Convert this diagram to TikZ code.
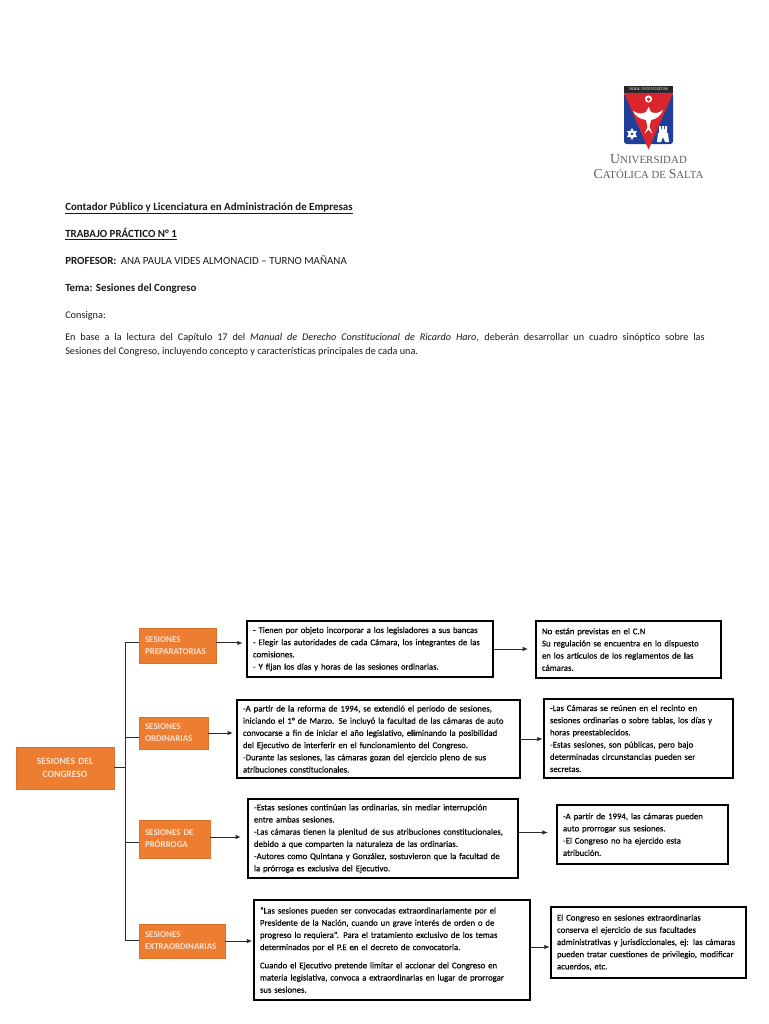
\documentclass[tikz,border=0pt]{standalone}
\usepackage{fontspec}
\setmainfont{Carlito}
\newfontfamily\serifu{Liberation Serif}
\newfontfamily\heavy[FakeBold=0.25]{Carlito}
\usetikzlibrary{arrows.meta}
\definecolor{orangebox}{HTML}{ED7D31}
\definecolor{orangeedge}{HTML}{D9722C}
\definecolor{labeltext}{HTML}{FBE3D2}
\definecolor{linkgray}{HTML}{2B2B2B}
\definecolor{bodytext}{HTML}{1A1A1A}
\definecolor{shieldblue}{HTML}{1E3F9A}
\definecolor{shieldred}{HTML}{D8262C}
\definecolor{logotext}{HTML}{5E5E5E}
\tikzset{
  head/.style={anchor=base west,text=bodytext,inner sep=0pt,font=\fontsize{8.2}{9}\selectfont},
  orangelabel/.style={fill=orangebox,draw=orangeedge,line width=.5pt,text=labeltext,align=left,inner sep=0pt,font=\bfseries\fontsize{6.7}{9}\selectfont},
  textbox/.style={draw=black,fill=white,text=black,align=left,inner sep=0pt,font=\heavy\fontsize{6.55}{9.15}\selectfont},
  link/.style={draw=linkgray,line width=.75pt},
  arrowlink/.style={link,-{Latex[length=4pt,width=3.4pt]},shorten >=2.5pt},
  logoname/.style={text=logotext,inner sep=0pt,font=\serifu}
}
% name, x1, y1, x2, y2 (px), style, text
\newcommand{\pxbox}[7]{%
  \pgfmathsetlengthmacro{\pxw}{(#4-#2)*0.75}%
  \pgfmathsetlengthmacro{\pxh}{(#5-#3)*0.75}%
  \pgfmathsetlengthmacro{\pxt}{(#4-#2)*0.75-9pt}%
  \pgfmathsetmacro{\pxcx}{(#2+#4)/2}%
  \pgfmathsetmacro{\pxcy}{(#3+#5)/2}%
  \node[#6,minimum width=\pxw,minimum height=\pxh,text width=\pxt] (#1) at (\pxcx,\pxcy) {#7};%
}
\begin{document}
\begin{tikzpicture}[x=0.75pt,y=-0.75pt]
\useasboundingbox (0,0) rectangle (768,1024);
\fill[white] (0,0) rectangle (768,1024);

% --- logo
\fill[black!85] (624,86) rectangle (673,93);
\node[text=white,inner sep=0pt,font=\serifu\fontsize{3.1}{3.5}\selectfont] (motto) at (648.5,89.6) {NIHIL INTENTATUM};
\fill[shieldblue,rounded corners=2pt] (624,93) -- (673,93) -- (673,144) -- (624,144) -- cycle;
\fill[shieldred] (624,93) -- (673,93) -- (648.5,149.5) -- cycle;
\fill[white] (648.5,99) circle (3.6);
\fill[shieldred] (648.5,99.3) circle (1.9);
% bird
\fill[white] (633,111) .. controls (638,114) and (642,114) .. (646,112) -- (648.5,107) -- (651,112)
  .. controls (655,114) and (659,113) .. (663,110) .. controls (661,116) and (656,119) .. (651,120)
  -- (649.5,127) -- (652.5,134) -- (648.5,129.5) -- (644.5,134) -- (647.5,127) -- (646,120)
  .. controls (640,119) and (635,116) .. (633,111) -- cycle;
% star and tower
\fill[white] (632,128) -- (637,137) -- (627,137) -- cycle;
\fill[white] (632,140) -- (637,131) -- (627,131) -- cycle;
\fill[shieldblue] (632,134) circle (1.3);
\fill[white] (659,126) rectangle (661,129) (662,126) rectangle (664,129) (665,126) rectangle (667,129);
\fill[white] (659,129) rectangle (667,133);
\fill[white] (657,142) -- (658,133) -- (668,133) -- (669,142) -- (665,142) -- (663,137) -- (661,142) -- cycle;
\node[logoname,anchor=base] (uni1) at (648.5,163) {\fontsize{10.4}{9}\selectfont U\fontsize{8.2}{9}\selectfont NIVERSIDAD};
\node[logoname,anchor=base] (uni2) at (648.5,178) {\fontsize{10.3}{9}\selectfont C\fontsize{8.1}{9}\selectfont ATÓLICA DE \fontsize{10.3}{9}\selectfont S\fontsize{8.1}{9}\selectfont ALTA};

% --- heading
\node[head] (t1) at (65,210) {\underline{\textbf{Contador Público y Licenciatura en Administración de Empresas}}};
\node[head] (t2) at (65,237) {\underline{\textbf{TRABAJO PRÁCTICO N° 1}}};
\node[head] (t3) at (65,264) {\textbf{PROFESOR:}\, ANA PAULA VIDES ALMONACID – TURNO MAÑANA};
\node[head] (t4) at (65,291) {\textbf{Tema: Sesiones del Congreso}};
\node[head,font=\fontsize{7.7}{9}\selectfont] (t5) at (65,318) {Consigna:};
\node[head,anchor=north west,text width=479.5pt,align=justify,font=\fontsize{7.65}{10.6}\selectfont] (t6) at (65,333)
 {En base a la lectura del Capítulo 17 del \textit{Manual de Derecho Constitucional de Ricardo Haro}, deberán desarrollar un cuadro sinóptico sobre las\linebreak Sesiones del Congreso, incluyendo concepto y características principales de cada una.};

% --- diagram: labels
\pxbox{root}{16}{747}{114}{789}{orangelabel,align=center,font=\bfseries\fontsize{7.2}{9.6}\selectfont}{SESIONES DEL\\CONGRESO}
\pxbox{lp}{139}{628}{216}{663}{orangelabel}{SESIONES\\PREPARATORIAS}
\pxbox{lo}{139}{717}{208}{749}{orangelabel}{SESIONES\\ORDINARIAS}
\pxbox{lr}{139}{820}{210}{858}{orangelabel}{SESIONES DE\\PRÓRROGA}
\pxbox{le}{139}{924}{225}{958}{orangelabel}{SESIONES\\EXTRAORDINARIAS}

% --- middle boxes
\pxbox{b1}{247}{621}{493}{677}{textbox,line width=1.5pt}{- Tienen por objeto incorporar a los legisladores a sus bancas\\- Elegir las autoridades de cada Cámara, los integrantes de las\\comisiones.\\- Y fijan los días y horas de las sesiones ordinarias.}
\pxbox{b2}{237}{700}{520}{778}{textbox,line width=1pt}{-A partir de la reforma de 1994, se extendió el periodo de sesiones,\\iniciando el 1° de Marzo. Se incluyó la facultad de las cámaras de auto\\convocarse a fin de iniciar el año legislativo, eliminando la posibilidad\\del Ejecutivo de interferir en el funcionamiento del Congreso.\\-Durante las sesiones, las cámaras gozan del ejercicio pleno de sus\\atribuciones constitucionales.}
\pxbox{b3}{248}{799}{518}{878}{textbox,line width=1.6pt}{-Estas sesiones continúan las ordinarias, sin mediar interrupción\\entre ambas sesiones.\\-Las cámaras tienen la plenitud de sus atribuciones constitucionales,\\debido a que comparten la naturaleza de las ordinarias.\\-Autores como Quintana y González, sostuvieron que la facultad de\\la prórroga es exclusiva del Ejecutivo.}
\pxbox{b4}{254}{900}{530}{1000}{textbox,line width=1.6pt}{“Las sesiones pueden ser convocadas extraordinariamente por el\\Presidente de la Nación, cuando un grave interés de orden o de\\progreso lo requiera”. Para el tratamiento exclusivo de los temas\\determinados por el P.E en el decreto de convocatoria.\\[4.5pt]Cuando el Ejecutivo pretende limitar el accionar del Congreso en\\materia legislativa, convoca a extraordinarias en lugar de prorrogar\\sus sesiones.}

% --- right boxes
\pxbox{r1}{536}{621}{721}{678}{textbox,line width=1pt}{No están previstas en el C.N\\Su regulación se encuentra en lo dispuesto\\en los artículos de los reglamentos de las\\cámaras.}
\pxbox{r2}{544}{699}{733}{778}{textbox,line width=1pt}{-Las Cámaras se reúnen en el recinto en\\sesiones ordinarias o sobre tablas, los días y\\horas preestablecidos.\\-Estas sesiones, son públicas, pero bajo\\determinadas circunstancias pueden ser\\secretas.}
\pxbox{r3}{557}{805}{728}{864}{textbox,line width=.8pt}{-A partir de 1994, las cámaras pueden\\auto prorrogar sus sesiones.\\-El Congreso no ha ejercido esta\\atribución.}
\pxbox{r4}{551}{907}{746}{978}{textbox,line width=1pt}{El Congreso en sesiones extraordinarias\\conserva el ejercicio de sus facultades\\administrativas y jurisdiccionales, ej: las cámaras\\pueden tratar cuestiones de privilegio, modificar\\acuerdos, etc.}

% --- connectors
\coordinate (trunk) at (125,767);
\draw[link] ([yshift=.75pt]root.east) -- (trunk);
\draw[link] ([yshift=1.9pt]lp.west) -| (trunk);
\draw[link] ([yshift=-3pt]lo.west) -| (trunk);
\draw[link] ([yshift=-2.25pt]lr.west) -| (trunk);
\draw[link] ([yshift=.75pt]le.west) -| (trunk);

\draw[arrowlink] ([yshift=1.9pt]lp.east) -- ([yshift=1.9pt]b1.west|-lp.east);
\draw[arrowlink] (lo.east) -- (b2.west|-lo.east);
\draw[arrowlink] ([yshift=1.5pt]lr.east) -- ([yshift=1.5pt,xshift=-2pt]b3.west|-lr.east);
\draw[arrowlink] (le.east) -- ([xshift=2pt]b4.west|-le.east);

\draw[arrowlink,line width=.6pt] (b1.east) -- ([xshift=-3pt]r1.west|-b1.east);
\draw[arrowlink,line width=.6pt] (b2.east) -- ([xshift=2pt]r2.west|-b2.east);
\draw[arrowlink,line width=.6pt] ([yshift=4.5pt]b3.east) -- ([yshift=4.5pt,xshift=-4pt]r3.west|-b3.east);
\draw[arrowlink,line width=.6pt] ([yshift=2.25pt]b4.east) -- ([yshift=2.25pt,xshift=2pt]r4.west|-b4.east);
\end{tikzpicture}
\end{document}
